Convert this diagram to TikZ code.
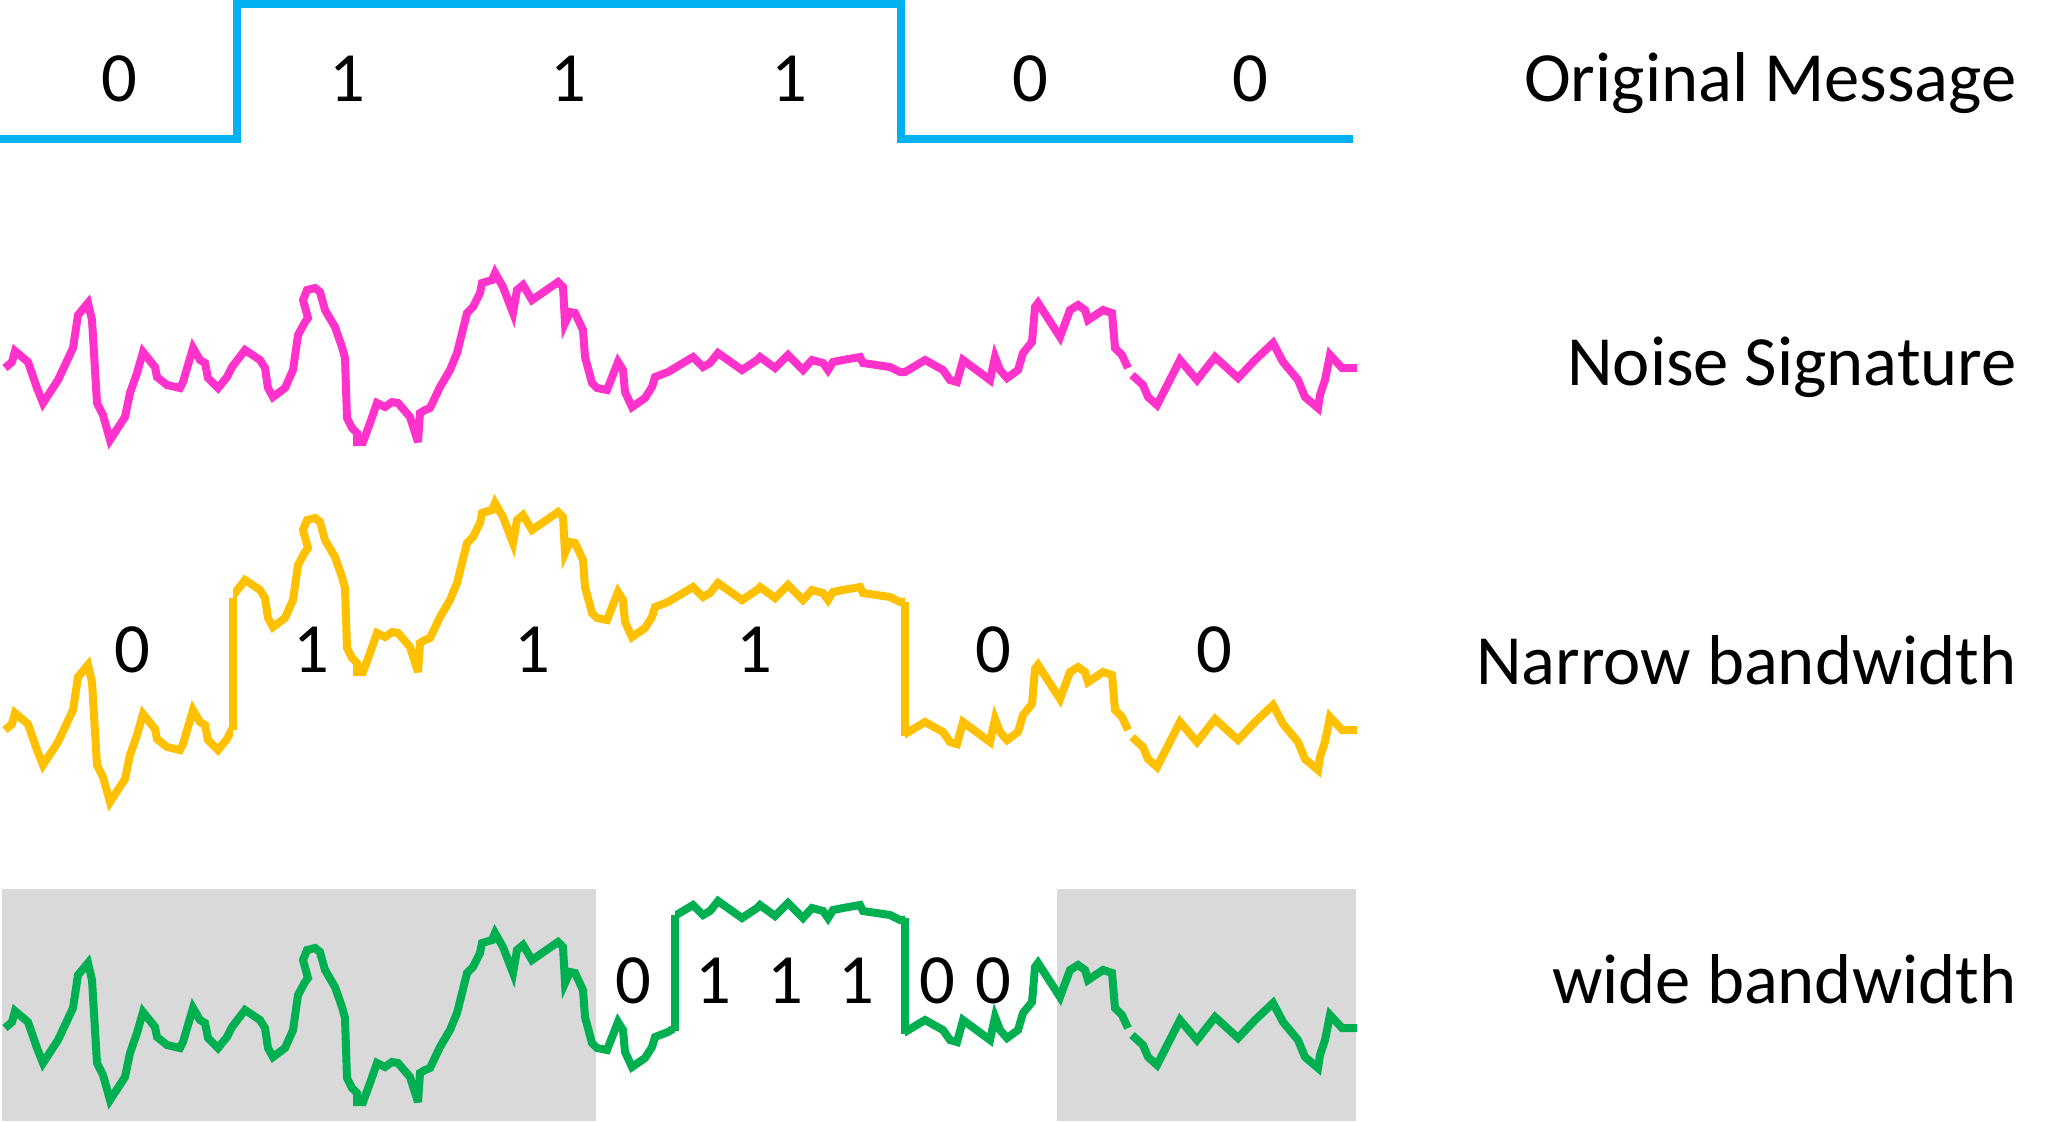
\documentclass[tikz,border=0pt]{standalone}
\usepackage{fontspec}
\setmainfont{Carlito}
\definecolor{msgblue}{HTML}{00B0F0}
\definecolor{noisepink}{HTML}{FF33CC}
\definecolor{narrowyellow}{HTML}{FFC000}
\definecolor{widegreen}{HTML}{00B050}
\definecolor{shadegrey}{HTML}{D9D9D9}
\newcommand\noiseA{(5,368) -- (12,362) -- (15,351) -- (28,362) -- (37,388) -- (43,403) -- (58,380) -- (73,348) -- (78,315) -- (88,303) -- (92,320) -- (97,403) -- (103,415) -- (110,440) -- (125,417) -- (130,393) -- (137,373) -- (143,352) -- (155,367) -- (157,377) -- (167,385) -- (180,388) -- (183,382) -- (193,348) -- (200,360) -- (205,363) -- (208,378) -- (218,388) -- (227,377) -- (232,367) -- (245,350) -- (260,360) -- (265,368) -- (268,388) -- (273,397) -- (285,388) -- (293,370) -- (298,335) -- (305,322) -- (308,318) -- (303,300) -- (307,290) -- (315,288) -- (320,292) -- (325,310) -- (335,327) -- (342,347) -- (345,358) -- (347,418) -- (352,428) -- (357,433) -- (357,442) -- (363,442) -- (370,423) -- (377,403) -- (385,407) -- (392,402) -- (398,403) -- (410,417) -- (418,442) -- (420,413) -- (425,410) -- (430,408) -- (440,387) -- (450,370) -- (457,353) -- (467,313) -- (473,307) -- (480,293) -- (482,283) -- (492,280) -- (495,273) -- (503,287) -- (513,313) -- (517,290) -- (523,285) -- (532,300) -- (558,282) -- (563,287) -- (565,323) -- (570,312) -- (575,313) -- (583,330) -- (585,357) -- (592,383) -- (597,388) -- (607,390) -- (618,362) -- (623,370) -- (625,392) -- (632,407) -- (645,398) -- (652,387) -- (655,377) -- (668,372) -- (693,357) -- (703,367) -- (710,363) -- (718,353) -- (742,370) -- (757,360) -- (760,357) -- (775,368) -- (788,355) -- (803,370) -- (812,360) -- (823,363) -- (828,370) -- (833,362) -- (843,360) -- (860,357) -- (863,363) -- (890,367) -- (900,372) -- (905,372) -- (925,360) -- (943,370) -- (950,380) -- (957,382) -- (963,360) -- (990,380) -- (995,357) -- (1000,370) -- (1007,378) -- (1018,370) -- (1023,353) -- (1032,342) -- (1035,307) -- (1038,303) -- (1060,337) -- (1070,310) -- (1078,305) -- (1085,310) -- (1088,320) -- (1103,310) -- (1112,313) -- (1115,348) -- (1122,355) -- (1128,368)}
\newcommand\noiseB{(1132,375) -- (1143,385) -- (1148,397) -- (1157,405) -- (1180,360) -- (1197,380) -- (1215,357) -- (1238,378) -- (1255,360) -- (1273,343) -- (1283,362) -- (1298,380) -- (1305,397) -- (1318,408) -- (1320,395) -- (1325,380) -- (1330,355) -- (1342,368) -- (1357,368)}
\begin{document}
\begin{tikzpicture}[x=0.5pt,y=-0.5pt,
  txt/.style={font=\fontsize{35.3pt}{42pt}\selectfont, inner sep=0pt, text=black},
  rowlabel/.style={txt, anchor=base east},
  digit/.style={txt, anchor=base},
  wave/.style={line width=4pt, miter limit=5},
  msgline/.style={line width=4pt, draw=msgblue}]
\useasboundingbox (0,0) rectangle (2064,1121);
\fill[white] (0,0) rectangle (2064,1121);

% grey shading behind wide bandwidth
\fill[shadegrey] (2,889) rectangle (596,1121);
\fill[shadegrey] (1057,889) rectangle (1356,1121);

% original message
\draw[msgline] (0,139) -- (237,139) -- (237,4) -- (901,4) -- (901,139) -- (1353,139);
\node[digit] (m1) at (119,101) {0};
\node[digit] (m2) at (347,101) {1};
\node[digit] (m3) at (568,101) {1};
\node[digit] (m4) at (789,101) {1};
\node[digit] (m5) at (1030,101) {0};
\node[digit] (m6) at (1250,101) {0};

% noise signature
\draw[wave, noisepink] \noiseA;
\draw[wave, noisepink] \noiseB;

% narrow bandwidth
\begin{scope}
  \clip (0,0) rectangle (233,1121);
  \draw[wave, narrowyellow, shift={(0,362)}] \noiseA;
\end{scope}
\begin{scope}
  \clip (233,0) rectangle (905,1121);
  \draw[wave, narrowyellow, shift={(0,230)}] \noiseA;
\end{scope}
\begin{scope}
  \clip (905,0) rectangle (2064,1121);
  \draw[wave, narrowyellow, shift={(0,362)}] \noiseA;
  \draw[wave, narrowyellow, shift={(0,362)}] \noiseB;
\end{scope}
\draw[wave, narrowyellow] (233,730) -- (233,598);
\draw[wave, narrowyellow] (905,602) -- (905,736);
\node[digit] (n1) at (132,672) {0};
\node[digit] (n2) at (311,672) {1};
\node[digit] (n3) at (532,672) {1};
\node[digit] (n4) at (754,672) {1};
\node[digit] (n5) at (993,672) {0};
\node[digit] (n6) at (1214,672) {0};

% wide bandwidth
\begin{scope}
  \clip (0,0) rectangle (675,1121);
  \draw[wave, widegreen, shift={(0,660)}] \noiseA;
\end{scope}
\begin{scope}
  \clip (675,0) rectangle (905,1121);
  \draw[wave, widegreen, shift={(0,548)}] \noiseA;
\end{scope}
\begin{scope}
  \clip (905,0) rectangle (2064,1121);
  \draw[wave, widegreen, shift={(0,660)}] \noiseA;
  \draw[wave, widegreen, shift={(0,660)}] \noiseB;
\end{scope}
\draw[wave, widegreen] (675,1031) -- (675,915);
\draw[wave, widegreen] (905,918) -- (905,1034);
\node[digit] (w1) at (633,1003) {0};
\node[digit] (w2) at (713,1003) {1};
\node[digit] (w3) at (785,1003) {1};
\node[digit] (w4) at (856,1003) {1};
\node[digit] (w5) at (937,1003) {0};
\node[digit] (w6) at (993,1003) {0};

% row labels
\node[rowlabel] (lorig) at (2017,101) {Original Message};
\node[rowlabel] (lnoise) at (2017,385) {Noise Signature};
\node[rowlabel] (lnarrow) at (2017,684) {Narrow bandwidth};
\node[rowlabel] (lwide) at (2017,1003) {wide bandwidth};
\end{tikzpicture}
\end{document}
